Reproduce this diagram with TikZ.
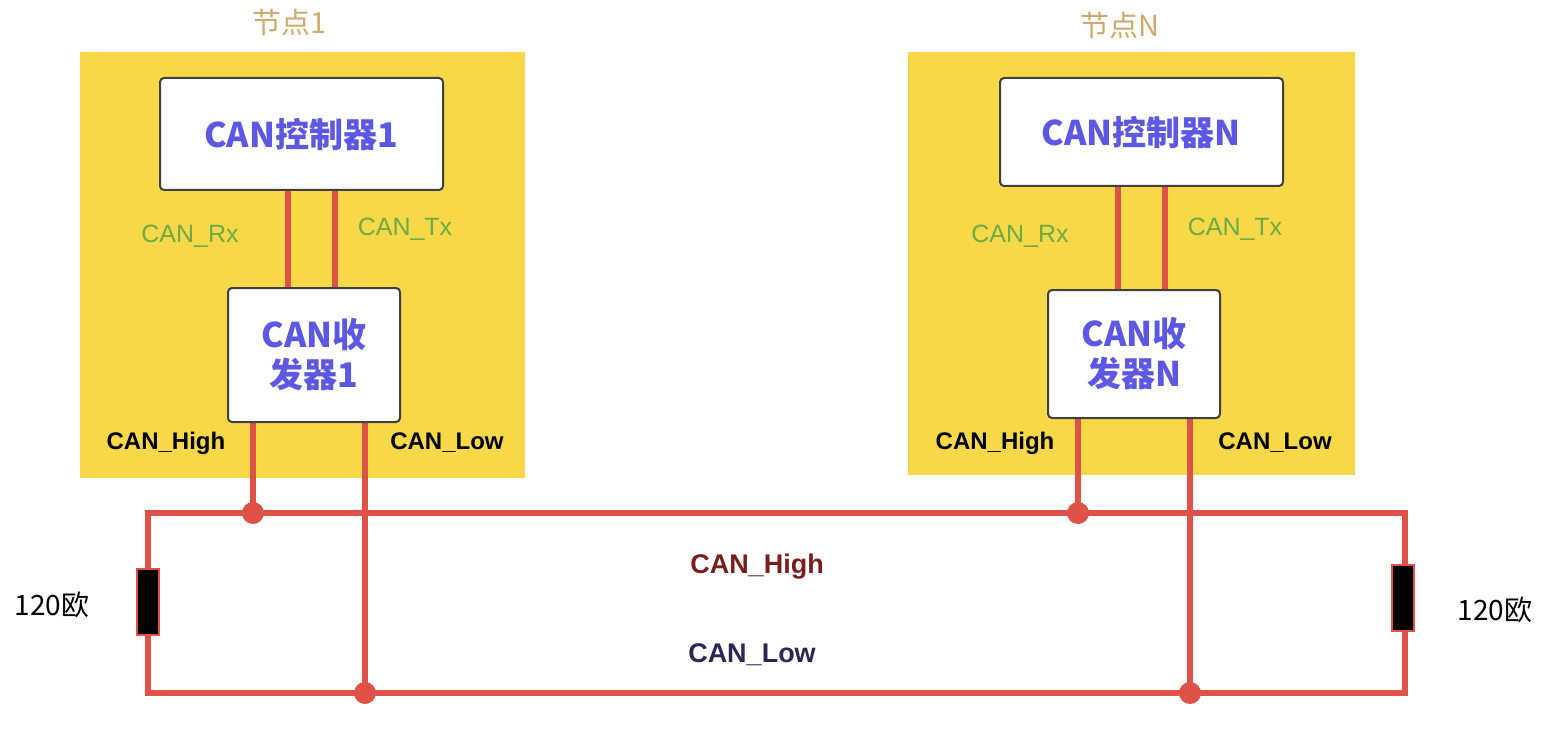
\documentclass[tikz,border=0pt]{standalone}
\usepackage{fontspec}
\setmainfont{Liberation Sans}
\newfontfamily\cjk{Noto Sans CJK SC}
\definecolor{ybg}{RGB}{246,216,72}
\definecolor{wire}{RGB}{222,82,72}
\definecolor{ctext}{RGB}{92,88,228}
\definecolor{gtext}{RGB}{110,170,70}
\definecolor{ttl}{RGB}{205,170,110}
\definecolor{hred}{RGB}{120,30,30}
\definecolor{lnavy}{RGB}{40,40,80}
\tikzset{
 x=1pt,y=-1pt,
 ybox/.style={fill=ybg,draw=none},
 wbox/.style={fill=white,draw=black!75,line width=2pt,rounded corners=4pt},
 wr/.style={draw=wire,line width=6pt},
 dotn/.style={circle,fill=wire,inner sep=0pt,minimum size=22pt},
 res/.style={fill=black,draw=wire,line width=2pt,minimum width=22pt,minimum height=66pt,inner sep=0pt},
 btxt/.style={font=\cjk\bfseries\fontsize{34}{40}\selectfont,text=ctext,align=center},
 sig/.style={font=\fontsize{25}{27}\selectfont,text=gtext},
 pin/.style={font=\bfseries\fontsize{24}{26}\selectfont},
}
\begin{document}
\begin{tikzpicture}
\useasboundingbox[fill=white] (0,0) rectangle (1546,751);
\fill[ybox] (80,52) rectangle (525,478);
\fill[ybox] (908,52) rectangle (1355,475);
\node[font=\cjk\fontsize{29}{32}\selectfont,text=ttl] (t1) at (290,22) {节点1};
\node[font=\cjk\fontsize{29}{32}\selectfont,text=ttl] (tn) at (1120,25) {节点N};
% wires controller-transceiver
\draw[wr] (288,185) -- (288,292);
\draw[wr] (335,185) -- (335,292);
\draw[wr] (1118,182) -- (1118,294);
\draw[wr] (1165,182) -- (1165,294);
% bus
\draw[wr] (148,513) rectangle (1405,693);
\draw[wr] (253,418) -- (253,513);
\draw[wr] (365,418) -- (365,693);
\draw[wr] (1078,414) -- (1078,513);
\draw[wr] (1190,414) -- (1190,693);
\node[dotn] (d1) at (253,513) {};
\node[dotn] (d2) at (365,693) {};
\node[dotn] (d3) at (1078,513) {};
\node[dotn] (d4) at (1190,693) {};
\node[res] (r1) at (148,602) {};
\node[res] (r2) at (1403,598) {};
% boxes
\draw[wbox] (160,78) rectangle (443,190);
\node[btxt] (c1) at (301,134) {CAN控制器1};
\draw[wbox] (1000,78) rectangle (1283,186);
\node[btxt] (cn) at (1141,132) {CAN控制器N};
\draw[wbox] (228,288) rectangle (400,422);
\node[btxt] (x1) at (314,355) {CAN收\\发器1};
\draw[wbox] (1048,290) rectangle (1220,418);
\node[btxt] (xn) at (1134,354) {CAN收\\发器N};
% labels
\node[sig] (l1) at (190,236) {CAN\_Rx};
\node[sig] (l2) at (405,229) {CAN\_Tx};
\node[sig] (l3) at (1020,236) {CAN\_Rx};
\node[sig] (l4) at (1235,229) {CAN\_Tx};
\node[pin] (p1) at (166,443) {CAN\_High};
\node[pin] (p2) at (447,443) {CAN\_Low};
\node[pin] (p3) at (995,443) {CAN\_High};
\node[pin] (p4) at (1275,443) {CAN\_Low};
\node[pin,text=hred,font=\bfseries\fontsize{27}{29}\selectfont] (bh) at (757,567) {CAN\_High};
\node[pin,text=lnavy,font=\bfseries\fontsize{27}{29}\selectfont] (bl) at (752,655) {CAN\_Low};
\node[font=\cjk\fontsize{28}{32}\selectfont] (o1) at (52,605) {120欧};
\node[font=\cjk\fontsize{28}{32}\selectfont] (o2) at (1495,610) {120欧};
\end{tikzpicture}
\end{document}
